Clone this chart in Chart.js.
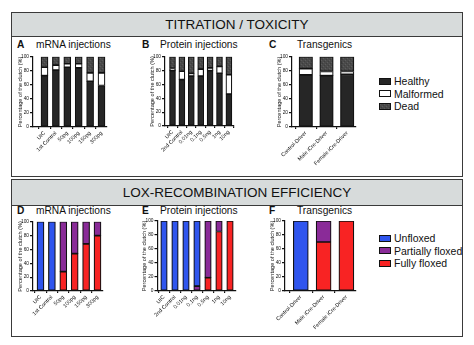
<!DOCTYPE html>
<html lang="en">
<head>
<meta charset="UTF-8">
<title>Titration / Toxicity and Lox-recombination efficiency</title>
<script src="https://cdn.jsdelivr.net/npm/chart.js"></script>
<style>
  body { margin: 0; background: #fff; font-family: "Liberation Sans", Arial, sans-serif; color: #111; }
  #fig { position: relative; width: 474px; height: 345px; overflow: hidden; }
  .box { position: absolute; border: 1.5px solid #3a3a3a; box-sizing: border-box; }
  .band { position: absolute; left: 0; right: 0; top: 0; background: #d7dbdb; border-bottom: 1.5px solid #3a3a3a; text-align: center; font-size: 13.5px; }
  .ptitle { position: absolute; font-size: 10.2px; line-height: 12px; white-space: nowrap; }
  .ptitle b { position: absolute; }
  canvas { position: absolute; }
  .legend { position: absolute; font-size: 10.5px; }
  .legend div { height: 12.7px; line-height: 12.7px; white-space: nowrap; }
  .legend span { display: inline-block; width: 10px; height: 5px; border: 1.7px solid #111; vertical-align: middle; margin: -2px 3px 0 0; }
</style>
</head>
<body>
<div id="fig">
  <div class="box" style="left:11px;top:12px;width:452px;height:165px">
    <div class="band" style="height:23px;line-height:23px">TITRATION / TOXICITY</div>
  </div>
  <div class="box" style="left:11px;top:179px;width:452px;height:158px">
    <div class="band" style="height:25px;line-height:25px">LOX-RECOMBINATION EFFICIENCY</div>
  </div>
  <div class="ptitle" style="left:17px;top:39px"><b style="left:0">A</b><span style="margin-left:19px">mRNA injections</span></div>
  <div class="ptitle" style="left:142px;top:39px"><b style="left:0">B</b><span style="margin-left:18px">Protein injections</span></div>
  <div class="ptitle" style="left:269px;top:39px"><b style="left:0">C</b><span style="margin-left:28px">Transgenics</span></div>
  <div class="ptitle" style="left:17px;top:205px"><b style="left:0">D</b><span style="margin-left:19px">mRNA injections</span></div>
  <div class="ptitle" style="left:142px;top:205px"><b style="left:0">E</b><span style="margin-left:18px">Protein injections</span></div>
  <div class="ptitle" style="left:269px;top:205px"><b style="left:0">F</b><span style="margin-left:28px">Transgenics</span></div>
  <div class="legend" id="legTox" style="left:379px;top:75px"></div>
  <div class="legend" id="legLox" style="left:379px;top:232px"></div>
</div>
<script>
// categories
const mrnaLabels = ["UIC", "1st Control", "50pg", "100pg", "150pg", "300pg"];
const proteinLabels = ["UIC", "2nd Control", "0.01ng", "0.1ng", "0.5ng", "1ng", "10ng"];
const transLabels = ["Control-Driver", "Male iCre-Driver", "Female iCre-Driver"];
const toxSeries = ["Healthy", "Malformed", "Dead"];
const loxSeries = ["Unfloxed", "Partially floxed", "Fully floxed"];
const yTicks = [0, 20, 40, 60, 80, 100];

// A - mRNA titration (% of clutch)
const mrnaHealthy   = [73, 81, 85, 84, 65, 59];
const mrnaMalformed = [12, 7, 5, 6, 12, 18];
const mrnaDead      = [15, 12, 10, 10, 23, 23];
// B - protein titration
const protHealthy   = [80, 67, 72, 72, 80, 76, 46];
const protMalformed = [3, 12, 4, 10, 4, 10, 28];
const protDead      = [17, 21, 24, 18, 16, 14, 26];
// C - transgenics
const transHealthy   = [74, 73, 75];
const transMalformed = [9, 6, 4];
const transDead      = [17, 21, 21];

// D - mRNA lox recombination
const mrnaUnfloxed = [100, 100, 0, 0, 0, 0];
const mrnaPartial  = [0, 0, 72, 46, 32, 20];
const mrnaFully    = [0, 0, 28, 54, 68, 80];
// E - protein lox recombination
const protUnfloxed = [100, 100, 100, 93, 0, 0, 0];
const protPartial  = [0, 0, 0, 7, 81, 15, 0];
const protFully    = [0, 0, 0, 0, 19, 85, 100];
// F - transgenics lox recombination
const transUnfloxed = [100, 0, 0];
const transPartial  = [0, 30, 0];
const transFully    = [0, 70, 100];

// speckled grey fill for "Dead"
const pc = document.createElement('canvas');
pc.width = 4; pc.height = 4;
const px = pc.getContext('2d');
px.fillStyle = '#4a4a4a'; px.fillRect(0, 0, 4, 4);
px.fillStyle = '#5c5c5c'; px.fillRect(0, 0, 1, 1); px.fillRect(2, 2, 1, 1);
px.fillStyle = '#3e3e3e'; px.fillRect(3, 1, 1, 1); px.fillRect(1, 3, 1, 1);
const deadFill = px.createPattern(pc, 'repeat');

const toxColors = ['#262626', '#ffffff', deadFill];
const loxColors = ['#2f55ee', '#8a2b98', '#f82323'];

const fig = document.getElementById('fig');
const FONT = '"Liberation Sans", Arial, sans-serif';

// g: axis x, pixel y of 100 and 0, first bar centre, spacing, bar width
function panel(g, labels, names, colors, series) {
  const left = Math.floor(g.axis - 15), top = Math.floor(g.top - 4);
  const wy = g.axis - left, padTop = g.top - top, hx = 44;
  const right = g.first + (labels.length - 1) * g.step + g.bar / 2 + 2;
  const w = Math.ceil(right + 3 - left), h = Math.ceil(g.bottom - top + hx);
  const cv = document.createElement('canvas');
  cv.width = w; cv.height = h;
  cv.style.left = left + 'px'; cv.style.top = top + 'px';
  fig.appendChild(cv);
  const datasets = names.map((n, k) => ({
    label: n,
    data: series[k].map((v, i) => ({ x: i, y: v })),
    backgroundColor: colors[k],
    borderColor: '#111',
    borderWidth: 1.2,
    borderSkipped: false,
    barThickness: g.bar
  }));
  new Chart(cv, {
    type: 'bar',
    data: { datasets: datasets },
    options: {
      responsive: false,
      animation: false,
      layout: { autoPadding: false, padding: { left: 0, top: padTop, right: w - (right - left), bottom: 0 } },
      plugins: { legend: { display: false }, tooltip: { enabled: false } },
      scales: {
        x: {
          type: 'linear', stacked: true, offset: false,
          min: -(g.first - g.axis) / g.step,
          max: (right - g.first) / g.step,
          afterBuildTicks: s => { s.ticks = labels.map((_, i) => ({ value: i })); },
          afterFit: s => { s.height = hx; },
          grid: { drawOnChartArea: false, tickLength: 2, color: '#111', lineWidth: 1.2 },
          border: { color: '#111', width: 1.2 },
          ticks: {
            autoSkip: false, minRotation: 45, maxRotation: 45, padding: 1,
            color: '#111', font: { family: FONT, size: 5.4 },
            callback: v => labels[v]
          }
        },
        y: {
          stacked: true, min: 0, max: 100,
          afterBuildTicks: s => { s.ticks = yTicks.map(v => ({ value: v })); },
          afterFit: s => { s.width = wy; },
          grid: { drawOnChartArea: false, tickLength: 3, color: '#111', lineWidth: 1.2 },
          border: { color: '#111', width: 1.2 },
          ticks: { padding: 1, color: '#111', font: { family: FONT, size: 4.8 } },
          title: {
            display: true, text: 'Percentage of the clutch (%)', color: '#111',
            padding: 0, font: { family: FONT, size: 5.6, lineHeight: 1 }
          }
        }
      }
    }
  });
}

panel({ axis: 33, top: 56.7, bottom: 126.5, first: 44.5, step: 11.4, bar: 7 },
  mrnaLabels, toxSeries, toxColors, [mrnaHealthy, mrnaMalformed, mrnaDead]);
panel({ axis: 165, top: 56.7, bottom: 126, first: 172.5, step: 9.4, bar: 6 },
  proteinLabels, toxSeries, toxColors, [protHealthy, protMalformed, protDead]);
panel({ axis: 292, top: 56.7, bottom: 127, first: 305.8, step: 20.7, bar: 13.5 },
  transLabels, toxSeries, toxColors, [transHealthy, transMalformed, transDead]);

// lox panels stack fully floxed at the bottom
const loxStackNames = [loxSeries[2], loxSeries[1], loxSeries[0]];
const loxStackColors = [loxColors[2], loxColors[1], loxColors[0]];
panel({ axis: 33, top: 221.7, bottom: 291, first: 40.5, step: 11.4, bar: 7 },
  mrnaLabels, loxStackNames, loxStackColors, [mrnaFully, mrnaPartial, mrnaUnfloxed]);
panel({ axis: 157.5, top: 221, bottom: 291, first: 164, step: 11, bar: 6.5 },
  proteinLabels, loxStackNames, loxStackColors, [protFully, protPartial, protUnfloxed]);
panel({ axis: 285, top: 221, bottom: 291, first: 300.8, step: 22.8, bar: 15 },
  transLabels, loxStackNames, loxStackColors, [transFully, transPartial, transUnfloxed]);

// legends
function legend(id, names, colors) {
  const el = document.getElementById(id);
  names.forEach((n, k) => {
    const row = document.createElement('div');
    const sw = document.createElement('span');
    if (colors[k] === deadFill) sw.style.background = 'url(' + pc.toDataURL() + ')';
    else sw.style.background = colors[k];
    row.appendChild(sw);
    row.appendChild(document.createTextNode(n));
    el.appendChild(row);
  });
}
legend('legTox', toxSeries, toxColors);
legend('legLox', loxSeries, loxColors);
</script>
</body>
</html>
